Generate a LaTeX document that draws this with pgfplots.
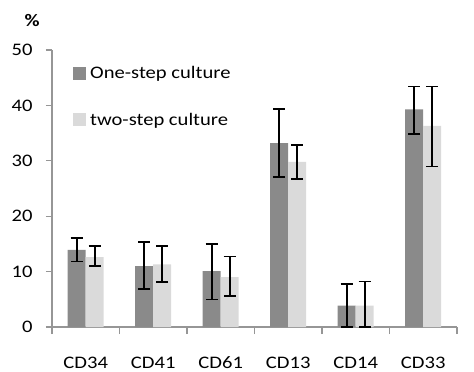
\documentclass[border=0pt]{standalone}
\usepackage{pgfplots}
\usepackage{pgfplotstable}
\pgfplotsset{compat=1.18}
\usepackage{fontspec}
\setmainfont{Carlito}[FakeStretch=1.17]
\definecolor{darkbar}{RGB}{138,138,138}
\definecolor{lightbar}{RGB}{218,218,218}
\definecolor{axisgray}{RGB}{150,150,150}
\pgfplotstableread{
x y ep em
0 13.9 2.2 2.1
1 11.0 4.3 4.1
2 10.1 4.9 5.1
3 33.2 6.1 6.1
4 3.85 3.95 3.85
5 39.3 4.1 4.5
}\oneStep
\pgfplotstableread{
x y ep em
0 12.6 2.0 1.6
1 11.3 3.3 3.2
2 9.0 3.7 3.4
3 29.8 3.0 3.1
4 3.85 4.35 3.85
5 36.3 7.1 7.3
}\twoStep
\begin{document}
\begin{tikzpicture}
\useasboundingbox (-52pt,-45pt) rectangle (422pt,327pt);
\begin{axis}[
  scale only axis,
  width=405pt, height=277pt,
  clip=false,
  ybar=0pt, bar width=18pt,
  xmin=-0.5, xmax=5.5,
  ymin=0, ymax=50,
  xtick={0,...,5},
  xticklabels={CD34,CD41,CD61,CD13,CD14,CD33},
  major x tick style={draw=none},
  minor xtick={-0.5,0.5,...,5.5},
  minor tick length=7pt,
  minor x tick style={axisgray, line width=1.2pt},
  ytick={0,10,...,50},
  major tick length=6pt,
  y tick style={axisgray, line width=1.2pt},
  tick align=outside,
  axis x line*=bottom, axis y line*=left,
  axis line style={axisgray, line width=1.2pt, -},
  /pgf/number format/assume math mode=true,
  tick label style={font=\fontsize{17.6}{18}\selectfont},
  xticklabel style={text height=11.5pt, text depth=3pt, yshift=-20pt},
  yticklabel style={xshift=-10pt},
  legend style={draw=none, fill=none, at={(axis cs:-0.5,50)}, anchor=north west,
    xshift=18pt, yshift=-12pt,
    font=\fontsize{17.6}{18}\selectfont, row sep=29pt,
    legend cell align=left},
  legend image code/.code={\fill[#1] (0pt,-6.5pt) rectangle (13pt,6.5pt);},
  error bars/error bar style={black, line width=1.6pt},
  error bars/error mark options={rotate=90, mark size=6pt, line width=1.6pt, black},
]
\addplot[fill=darkbar, draw=none, error bars/.cd, y dir=both, y explicit]
  table[x=x, y=y, y error plus=ep, y error minus=em] {\oneStep};
\addlegendentry{\hspace{2pt}One-step culture}
\addplot[fill=lightbar, draw=none, error bars/.cd, y dir=both, y explicit]
  table[x=x, y=y, y error plus=ep, y error minus=em] {\twoStep};
\addlegendentry{\hspace{2pt}two-step culture}
\node[font=\fontsize{17.6}{18}\selectfont\bfseries] at (axis description cs:-0.049,1.105) {\%};
\end{axis}
\end{tikzpicture}
\end{document}
